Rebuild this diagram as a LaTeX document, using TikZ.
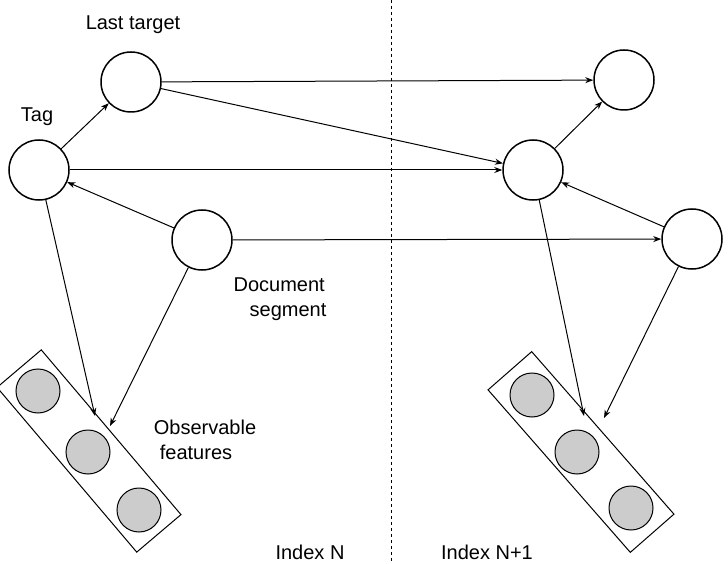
\documentclass[tikz,border=0pt]{standalone}
\usepackage{fontspec}
\setmainfont{Liberation Sans}
\usetikzlibrary{arrows.meta}
\begin{document}
\begin{tikzpicture}[x=1pt,y=-1pt,line width=1pt,
  st/.style={circle,draw,line width=1.5pt,minimum size=60pt,inner sep=0pt},
  ob/.style={circle,draw,fill=gray!40,minimum size=44pt,inner sep=0pt},
  bx/.style={draw,minimum width=216pt,minimum height=58pt,inner sep=0pt},
  ar/.style={-{Stealth[length=8pt,width=6pt]}},
  lb/.style={font=\fontsize{20}{25}\selectfont,align=center}]
\useasboundingbox (0,0) rectangle (728,564);
\draw[dashed] (391,0) -- (391,564);
\node[st] (lt) at (131,82) {};
\node[st] (tag) at (39,170) {};
\node[st] (doc) at (202,240) {};
\node[st] (rt) at (624,80) {};
\node[st] (rm) at (533,170) {};
\node[st] (rr) at (692,239) {};
\node[bx,rotate=-49.7] (lbox) at (89,451) {};
\node[ob] (l1) at (38,391) {};
\node[ob] (l2) at (88,452) {};
\node[ob] (l3) at (139,510) {};
\node[bx,rotate=-48.8] (rbox) at (581,452) {};
\node[ob] (r1) at (532,395) {};
\node[ob] (r2) at (577,452) {};
\node[ob] (r3) at (631,508) {};
\draw[ar] (tag) -- (lt);
\draw[ar] (lt) -- (rt);
\draw[ar] (lt) -- (rm);
\draw[ar] (tag) -- (rm);
\draw[ar] (doc) -- (tag);
\draw[ar] (doc) -- (rr);
\draw[ar] (rr) -- (rm);
\draw[ar] (rm) -- (rt);
\coordinate (a1) at (95,416);
\coordinate (a2) at (110,426);
\coordinate (a3) at (584,416);
\coordinate (a4) at (604,418);
\draw[ar] (tag) -- (a1);
\draw[ar] (doc) -- (a2);
\draw[ar] (rm) -- (a3);
\draw[ar] (rr) -- (a4);
\node[lb] (t1) at (133,25) {Last target};
\node[lb] (t2) at (37,117) {Tag};
\node[lb,align=left] (t3) at (280,299) {Document\\\hspace*{0.8em}segment};
\node[lb,align=left] (t4) at (205,440) {Observable\\\hspace*{0.3em}features};
\node[lb] (t5) at (310,552) {Index N};
\node[lb] (t6) at (487,552) {Index N+1};
\end{tikzpicture}
\end{document}
